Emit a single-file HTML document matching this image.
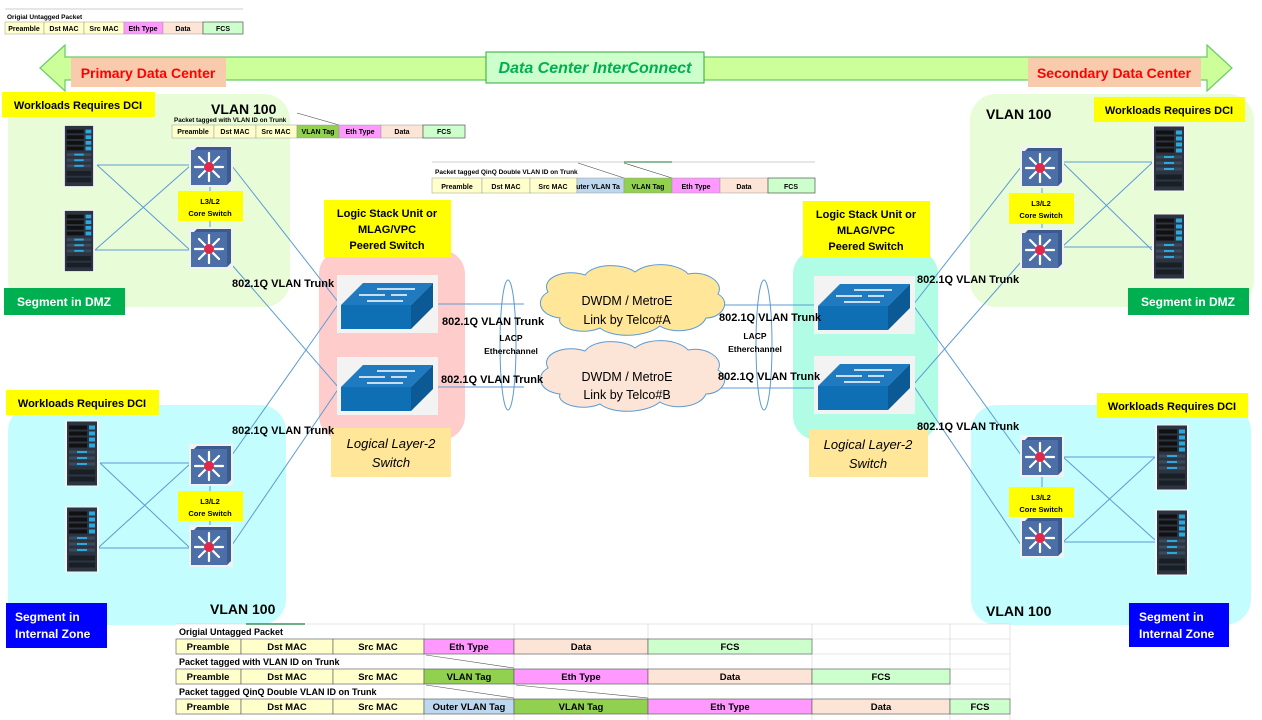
<!DOCTYPE html>
<html><head><meta charset="utf-8"><style>
html,body{margin:0;padding:0;background:#fff;}
svg{display:block;font-family:"Liberation Sans",sans-serif;}
.t{font-weight:bold;font-size:7px;text-anchor:middle;}
.b{font-weight:bold;font-size:9.5px;text-anchor:middle;}
.h{font-weight:bold;font-size:9px;}
.ln{stroke:#5b9bd5;stroke-width:1;fill:none;}
.lbl{font-weight:bold;font-size:11px;}
</style></head><body>
<svg width="1262" height="720" viewBox="0 0 1262 720" xmlns="http://www.w3.org/2000/svg">
<defs>
<symbol id="srv" viewBox="0 0 34 66">
<rect x="0" y="0" width="34" height="66" fill="#f4f4f4"/>
<rect x="2" y="1" width="30" height="64" fill="#2b3440"/>
<rect x="4" y="5" width="18" height="4" fill="#111"/><rect x="24" y="5" width="6" height="4" fill="#2aa8e0"/>
<rect x="4" y="11" width="18" height="4" fill="#111"/><rect x="24" y="11" width="6" height="4" fill="#2aa8e0"/>
<rect x="4" y="17" width="18" height="4" fill="#111"/><rect x="24" y="17" width="6" height="4" fill="#2aa8e0"/>
<rect x="4" y="23" width="18" height="4" fill="#111"/><rect x="24" y="23" width="6" height="4" fill="#2aa8e0"/>
<rect x="4" y="30" width="26" height="3" fill="#3a4a5a"/><rect x="12" y="30.5" width="10" height="2" fill="#2aa8e0"/>
<rect x="4" y="36" width="26" height="3" fill="#3a4a5a"/><rect x="12" y="36.5" width="10" height="2" fill="#2aa8e0"/>
<rect x="4" y="42" width="26" height="3" fill="#3a4a5a"/><rect x="12" y="42.5" width="10" height="2" fill="#2aa8e0"/>
<rect x="4" y="49" width="26" height="5" fill="#1a1f26"/><rect x="4" y="56" width="26" height="5" fill="#1a1f26"/>
</symbol>
<symbol id="core" viewBox="0 0 44 42">
<rect x="0" y="0" width="44" height="42" fill="#f2f2f2"/>
<polygon points="4,6 8,2 42,2 42,36 38,40 4,40" fill="#3b5a8e"/>
<rect x="2" y="5" width="36" height="35" fill="#4d6fa8"/>
<g stroke="#fff" stroke-width="2.2" stroke-linecap="round">
<line x1="20" y1="22" x2="20" y2="8"/><line x1="20" y1="22" x2="20" y2="36"/>
<line x1="20" y1="22" x2="6" y2="22"/><line x1="20" y1="22" x2="34" y2="22"/>
<line x1="20" y1="22" x2="10" y2="12"/><line x1="20" y1="22" x2="30" y2="32"/>
<line x1="20" y1="22" x2="30" y2="12"/><line x1="20" y1="22" x2="10" y2="32"/>
</g>
<circle cx="20" cy="22" r="5" fill="#e0284a"/>
</symbol>
<symbol id="sw" viewBox="0 0 101 58">
<rect x="0" y="0" width="101" height="58" fill="#f3f3f3"/>
<polygon points="4,30 26,8 96,8 74,30" fill="#1f7ac0"/>
<polygon points="4,30 74,30 74,54 4,54" fill="#0f6fb5"/>
<polygon points="74,30 96,8 96,32 74,54" fill="#0b5a95"/>
<g stroke="#fff" stroke-width="1.5">
<line x1="40" y1="14" x2="78" y2="14"/><line x1="22" y1="20" x2="48" y2="20"/><line x1="30" y1="26" x2="66" y2="26"/>
<line x1="54" y1="20" x2="70" y2="20"/>
</g>
</symbol>
</defs>

<!-- top-left table -->
<g>
<line x1="5" y1="9" x2="243" y2="9" stroke="#ccc"/>
<text x="7" y="19" style="font-weight:bold;font-size:6.5px">Origial Untagged Packet</text>
<rect x="5" y="22" width="39" height="12" fill="#ffffcc" stroke="#999" stroke-width=".5"/>
<rect x="44" y="22" width="40" height="12" fill="#ffffcc" stroke="#999" stroke-width=".5"/>
<rect x="84" y="22" width="40" height="12" fill="#ffffcc" stroke="#999" stroke-width=".5"/>
<rect x="124" y="22" width="39" height="12" fill="#ff99ff" stroke="#999" stroke-width=".5"/>
<rect x="163" y="22" width="40" height="12" fill="#fce4d6" stroke="#999" stroke-width=".5"/>
<rect x="203" y="22" width="40" height="12" fill="#ccffcc" stroke="#555" stroke-width=".7"/>
<text class="t" x="24" y="31">Preamble</text><text class="t" x="64" y="31">Dst MAC</text><text class="t" x="104" y="31">Src MAC</text><text class="t" x="143" y="31">Eth Type</text><text class="t" x="183" y="31">Data</text><text class="t" x="223" y="31">FCS</text>
</g>

<!-- DCI arrow -->
<polygon points="40,68 65,45 65,57 1207,57 1207,45 1232,68 1207,91 1207,80 65,80 65,91" fill="#ccff99" stroke="#66cc66" stroke-width="1.2"/>
<rect x="71" y="58" width="155" height="29" fill="#f8cbad"/>
<text x="148" y="78" style="fill:#ff0000;font-weight:bold;font-size:14px;text-anchor:middle">Primary Data Center</text>
<rect x="486" y="52" width="218" height="31" fill="#ccffcc" stroke="#33aa33"/>
<text x="595" y="73" style="fill:#00b050;font-weight:bold;font-style:italic;font-size:16px;text-anchor:middle">Data Center InterConnect</text>
<rect x="1028" y="58" width="173" height="29" fill="#f8cbad"/>
<text x="1114" y="78" style="fill:#ff0000;font-weight:bold;font-size:14px;text-anchor:middle">Secondary Data Center</text>

<!-- regions -->
<rect x="8" y="94" width="282" height="213" rx="26" fill="#e8fcd8"/>
<rect x="8" y="405" width="278" height="220" rx="26" fill="#c4fdfd"/>
<rect x="970" y="94" width="284" height="213" rx="26" fill="#e8fcd8"/>
<rect x="971" y="405" width="280" height="220" rx="26" fill="#c4fdfd"/>
<rect x="319" y="250" width="146" height="190" rx="24" fill="#ffcccc"/>
<rect x="793" y="250" width="145" height="190" rx="24" fill="#b0fce4"/>

<!-- connector lines left -->
<g class="ln">
<line x1="97" y1="165" x2="190" y2="165"/><line x1="97" y1="165" x2="190" y2="250"/>
<line x1="95" y1="250" x2="190" y2="166"/><line x1="95" y1="250" x2="190" y2="250"/>
<line x1="210" y1="186" x2="210" y2="228"/>
<line x1="232" y1="166" x2="339" y2="303"/><line x1="232" y1="265" x2="339" y2="388"/>
<line x1="232" y1="455" x2="339" y2="303"/><line x1="232" y1="545" x2="339" y2="388"/>
<line x1="100" y1="463" x2="190" y2="463"/><line x1="100" y1="463" x2="190" y2="548"/>
<line x1="98" y1="548" x2="190" y2="464"/><line x1="98" y1="548" x2="190" y2="548"/>
<line x1="210" y1="486" x2="210" y2="526"/>
<!-- middle -->
<line x1="418" y1="304" x2="524" y2="304"/><line x1="660" y1="305" x2="868" y2="305"/>
<line x1="418" y1="387" x2="524" y2="387"/><line x1="660" y1="388" x2="868" y2="388"/>
<!-- right -->
<line x1="913" y1="305" x2="1021" y2="167"/><line x1="913" y1="305" x2="1021" y2="455"/>
<line x1="913" y1="385" x2="1021" y2="262"/><line x1="913" y1="385" x2="1021" y2="545"/>
<line x1="1062" y1="162" x2="1152" y2="162"/><line x1="1062" y1="162" x2="1152" y2="250"/>
<line x1="1062" y1="247" x2="1153" y2="162"/><line x1="1062" y1="247" x2="1152" y2="247"/>
<line x1="1042" y1="187" x2="1042" y2="228"/>
<line x1="1063" y1="457" x2="1155" y2="457"/><line x1="1063" y1="457" x2="1155" y2="540"/>
<line x1="1063" y1="542" x2="1155" y2="457"/><line x1="1063" y1="542" x2="1155" y2="542"/>
<line x1="1042" y1="477" x2="1042" y2="516"/>
<ellipse cx="508" cy="345" rx="8" ry="65"/><ellipse cx="764" cy="345" rx="8" ry="65"/>
</g>

<!-- servers -->
<use href="#srv" x="63" y="123" width="32" height="66"/>
<use href="#srv" x="63" y="208" width="32" height="66"/>
<use href="#srv" x="65" y="420" width="34" height="67"/>
<use href="#srv" x="65" y="506" width="34" height="67"/>
<use href="#srv" x="1152" y="125" width="34" height="67"/>
<use href="#srv" x="1152" y="213" width="34" height="67"/>
<use href="#srv" x="1155" y="424" width="34" height="67"/>
<use href="#srv" x="1155" y="509" width="34" height="67"/>
<!-- core switches -->
<use href="#core" x="189" y="145" width="44" height="42"/>
<use href="#core" x="189" y="227" width="44" height="42"/>
<use href="#core" x="189" y="444" width="44" height="42"/>
<use href="#core" x="189" y="525" width="44" height="42"/>
<use href="#core" x="1020" y="146" width="44" height="42"/>
<use href="#core" x="1020" y="228" width="44" height="42"/>
<use href="#core" x="1020" y="435" width="44" height="42"/>
<use href="#core" x="1020" y="516" width="44" height="42"/>
<!-- stack switches -->
<use href="#sw" x="337" y="275" width="101" height="58"/>
<use href="#sw" x="337" y="357" width="101" height="58"/>
<use href="#sw" x="814" y="276" width="101" height="58"/>
<use href="#sw" x="814" y="356" width="101" height="58"/>

<!-- yellow labels -->
<g>
<rect x="2" y="92" width="153" height="25" fill="#ffff00"/><text x="78" y="109" class="lbl" style="text-anchor:middle">Workloads Requires DCI</text>
<rect x="6" y="390" width="153" height="25" fill="#ffff00"/><text x="82" y="407" class="lbl" style="text-anchor:middle">Workloads Requires DCI</text>
<rect x="1094" y="97" width="151" height="25" fill="#ffff00"/><text x="1169" y="114" class="lbl" style="text-anchor:middle">Workloads Requires DCI</text>
<rect x="1097" y="393" width="151" height="25" fill="#ffff00"/><text x="1172" y="410" class="lbl" style="text-anchor:middle">Workloads Requires DCI</text>
<rect x="178" y="191" width="65" height="30" fill="#ffff00"/><text x="210" y="204" style="font-weight:bold;font-size:7.5px;text-anchor:middle">L3/L2</text><text x="210" y="216" style="font-weight:bold;font-size:7.5px;text-anchor:middle">Core Switch</text>
<rect x="178" y="491" width="65" height="30" fill="#ffff00"/><text x="210" y="504" style="font-weight:bold;font-size:7.5px;text-anchor:middle">L3/L2</text><text x="210" y="516" style="font-weight:bold;font-size:7.5px;text-anchor:middle">Core Switch</text>
<rect x="1009" y="193" width="65" height="31" fill="#ffff00"/><text x="1041" y="206" style="font-weight:bold;font-size:7.5px;text-anchor:middle">L3/L2</text><text x="1041" y="218" style="font-weight:bold;font-size:7.5px;text-anchor:middle">Core Switch</text>
<rect x="1009" y="487" width="65" height="30" fill="#ffff00"/><text x="1041" y="500" style="font-weight:bold;font-size:7.5px;text-anchor:middle">L3/L2</text><text x="1041" y="512" style="font-weight:bold;font-size:7.5px;text-anchor:middle">Core Switch</text>
<rect x="324" y="200" width="127" height="57" fill="#ffff00"/>
<text x="387" y="217" class="lbl" style="text-anchor:middle">Logic Stack Unit or</text><text x="387" y="233" class="lbl" style="text-anchor:middle">MLAG/VPC</text><text x="387" y="249" class="lbl" style="text-anchor:middle">Peered Switch</text>
<rect x="803" y="201" width="127" height="57" fill="#ffff00"/>
<text x="866" y="218" class="lbl" style="text-anchor:middle">Logic Stack Unit or</text><text x="866" y="234" class="lbl" style="text-anchor:middle">MLAG/VPC</text><text x="866" y="250" class="lbl" style="text-anchor:middle">Peered Switch</text>
<rect x="331" y="428" width="120" height="49" fill="#ffe699"/>
<text x="391" y="448" style="font-style:italic;font-size:13px;text-anchor:middle">Logical Layer-2</text><text x="391" y="467" style="font-style:italic;font-size:13px;text-anchor:middle">Switch</text>
<rect x="809" y="429" width="119" height="48" fill="#ffe699"/>
<text x="868" y="449" style="font-style:italic;font-size:13px;text-anchor:middle">Logical Layer-2</text><text x="868" y="468" style="font-style:italic;font-size:13px;text-anchor:middle">Switch</text>
</g>

<!-- segment boxes -->
<rect x="4" y="288" width="121" height="27" fill="#00b050"/><text x="64" y="306" style="fill:#fff;font-weight:bold;font-size:12px;text-anchor:middle">Segment in DMZ</text>
<rect x="1128" y="288" width="121" height="27" fill="#00b050"/><text x="1188" y="306" style="fill:#fff;font-weight:bold;font-size:12px;text-anchor:middle">Segment in DMZ</text>
<rect x="6" y="603" width="101" height="45" fill="#0000ff"/><text x="15" y="621" style="fill:#fff;font-weight:bold;font-size:12px">Segment in</text><text x="15" y="638" style="fill:#fff;font-weight:bold;font-size:12px">Internal Zone</text>
<rect x="1129" y="603" width="100" height="44" fill="#0000ff"/><text x="1139" y="621" style="fill:#fff;font-weight:bold;font-size:12px">Segment in</text><text x="1139" y="638" style="fill:#fff;font-weight:bold;font-size:12px">Internal Zone</text>

<!-- VLAN 100 -->
<text x="211" y="114" style="font-weight:bold;font-size:14px">VLAN 100</text>
<text x="210" y="614" style="font-weight:bold;font-size:14px">VLAN 100</text>
<text x="986" y="119" style="font-weight:bold;font-size:14px">VLAN 100</text>
<text x="986" y="616" style="font-weight:bold;font-size:14px">VLAN 100</text>

<!-- table VLAN tag -->
<g>
<text x="174" y="122" style="font-weight:bold;font-size:6.3px">Packet tagged with VLAN ID on Trunk</text>
<line x1="297" y1="113" x2="339" y2="125" stroke="#444" stroke-width=".6"/>
<rect x="172" y="125" width="42" height="13" fill="#ffffcc" stroke="#999" stroke-width=".5"/>
<rect x="214" y="125" width="42" height="13" fill="#ffffcc" stroke="#999" stroke-width=".5"/>
<rect x="256" y="125" width="41" height="13" fill="#ffffcc" stroke="#999" stroke-width=".5"/>
<rect x="297" y="125" width="42" height="13" fill="#92d050" stroke="#999" stroke-width=".5"/>
<rect x="339" y="125" width="42" height="13" fill="#ff99ff" stroke="#999" stroke-width=".5"/>
<rect x="381" y="125" width="42" height="13" fill="#fce4d6" stroke="#999" stroke-width=".5"/>
<rect x="423" y="125" width="42" height="13" fill="#ccffcc" stroke="#555" stroke-width=".7"/>
<text class="t" x="193" y="134">Preamble</text><text class="t" x="235" y="134">Dst MAC</text><text class="t" x="276" y="134">Src MAC</text><text class="t" x="318" y="134">VLAN Tag</text><text class="t" x="360" y="134">Eth Type</text><text class="t" x="402" y="134">Data</text><text class="t" x="444" y="134">FCS</text>
</g>

<!-- table QinQ middle -->
<g>
<line x1="432" y1="162" x2="815" y2="162" stroke="#ccc"/>
<text x="435" y="174" style="font-weight:bold;font-size:6.5px">Packet tagged QinQ Double VLAN ID on Trunk</text>
<line x1="578" y1="163" x2="624" y2="178" stroke="#444" stroke-width=".6"/>
<line x1="624" y1="163" x2="672" y2="178" stroke="#444" stroke-width=".6"/>
<line x1="624" y1="162" x2="672" y2="162" stroke="#1a7a3a" stroke-width="1"/>
<rect x="432" y="178" width="50" height="15" fill="#ffffcc" stroke="#999" stroke-width=".5"/>
<rect x="482" y="178" width="48" height="15" fill="#ffffcc" stroke="#999" stroke-width=".5"/>
<rect x="530" y="178" width="47" height="15" fill="#ffffcc" stroke="#999" stroke-width=".5"/>
<rect x="577" y="178" width="47" height="15" fill="#bdd7ee" stroke="#999" stroke-width=".5"/>
<rect x="624" y="178" width="48" height="15" fill="#92d050" stroke="#999" stroke-width=".5"/>
<rect x="672" y="178" width="48" height="15" fill="#ff99ff" stroke="#999" stroke-width=".5"/>
<rect x="720" y="178" width="48" height="15" fill="#fce4d6" stroke="#999" stroke-width=".5"/>
<rect x="768" y="178" width="47" height="15" fill="#ccffcc" stroke="#555" stroke-width=".7"/>
<text class="t" x="457" y="189">Preamble</text><text class="t" x="506" y="189">Dst MAC</text><text class="t" x="553" y="189">Src MAC</text><text class="t" x="598" y="189">uter VLAN Ta</text><text class="t" x="648" y="189">VLAN Tag</text><text class="t" x="696" y="189">Eth Type</text><text class="t" x="744" y="189">Data</text><text class="t" x="791" y="189">FCS</text>
</g>

<!-- clouds -->
<g stroke="#5b9bd5" stroke-width="1">
<path d="M548,292 C540,278 565,268 585,275 C595,262 625,264 635,272 C650,260 680,264 688,274 C705,270 725,282 718,294 C732,302 722,318 706,318 C700,332 672,334 660,326 C645,338 612,338 600,328 C582,336 556,328 560,318 C540,316 534,300 548,292 Z" fill="#ffe699"/>
<path d="M548,368 C540,354 565,344 585,351 C595,338 625,340 635,348 C650,336 680,340 688,350 C705,346 725,358 718,370 C732,378 722,394 706,394 C700,408 672,410 660,402 C645,414 612,414 600,404 C582,412 556,404 560,394 C540,392 534,376 548,368 Z" fill="#fce4d6"/>
</g>
<text x="627" y="305" style="font-size:12.5px;text-anchor:middle">DWDM / MetroE</text>
<text x="627" y="324" style="font-size:12.5px;text-anchor:middle">Link by Telco#A</text>
<text x="627" y="381" style="font-size:12.5px;text-anchor:middle">DWDM / MetroE</text>
<text x="627" y="399" style="font-size:12.5px;text-anchor:middle">Link by Telco#B</text>

<!-- trunk labels -->
<g class="lbl">
<text x="232" y="287">802.1Q VLAN Trunk</text>
<text x="232" y="434">802.1Q VLAN Trunk</text>
<text x="442" y="325">802.1Q VLAN Trunk</text>
<text x="441" y="383">802.1Q VLAN Trunk</text>
<text x="719" y="321">802.1Q VLAN Trunk</text>
<text x="718" y="380">802.1Q VLAN Trunk</text>
<text x="917" y="283">802.1Q VLAN Trunk</text>
<text x="917" y="430">802.1Q VLAN Trunk</text>
</g>
<text x="511" y="341" style="font-weight:bold;font-size:8.5px;text-anchor:middle">LACP</text>
<text x="511" y="354" style="font-weight:bold;font-size:8.5px;text-anchor:middle">Etherchannel</text>
<text x="755" y="339" style="font-weight:bold;font-size:8.5px;text-anchor:middle">LACP</text>
<text x="755" y="352" style="font-weight:bold;font-size:8.5px;text-anchor:middle">Etherchannel</text>

<!-- bottom table -->
<g>
<rect x="176" y="624" width="834" height="91" fill="#fff"/>
<g stroke="#d0d0d0" stroke-width=".6">
<line x1="176" y1="624" x2="1010" y2="624"/><line x1="176" y1="639" x2="1010" y2="639"/><line x1="176" y1="654" x2="1010" y2="654"/><line x1="176" y1="669" x2="1010" y2="669"/><line x1="176" y1="684" x2="1010" y2="684"/><line x1="176" y1="699" x2="1010" y2="699"/><line x1="176" y1="714" x2="1010" y2="714"/>
<line x1="424" y1="624" x2="424" y2="720"/><line x1="514" y1="624" x2="514" y2="720"/><line x1="648" y1="624" x2="648" y2="720"/><line x1="812" y1="624" x2="812" y2="720"/><line x1="950" y1="624" x2="950" y2="720"/><line x1="1010" y1="624" x2="1010" y2="720"/>
</g>
<line x1="246" y1="624" x2="305" y2="624" stroke="#1a7a3a" stroke-width="1.2"/>
<text class="h" x="179" y="635">Origial Untagged Packet</text>
<g stroke="#555" stroke-width=".6">
<rect x="176" y="639" width="65" height="15" fill="#ffffcc"/><rect x="241" y="639" width="92" height="15" fill="#ffffcc"/><rect x="333" y="639" width="91" height="15" fill="#ffffcc"/><rect x="424" y="639" width="90" height="15" fill="#ff99ff"/><rect x="514" y="639" width="134" height="15" fill="#fce4d6"/><rect x="648" y="639" width="164" height="15" fill="#ccffcc"/>
<rect x="176" y="669" width="65" height="15" fill="#ffffcc"/><rect x="241" y="669" width="92" height="15" fill="#ffffcc"/><rect x="333" y="669" width="91" height="15" fill="#ffffcc"/><rect x="424" y="669" width="90" height="15" fill="#92d050"/><rect x="514" y="669" width="134" height="15" fill="#ff99ff"/><rect x="648" y="669" width="164" height="15" fill="#fce4d6"/><rect x="812" y="669" width="138" height="15" fill="#ccffcc"/>
<rect x="176" y="699" width="65" height="15" fill="#ffffcc"/><rect x="241" y="699" width="92" height="15" fill="#ffffcc"/><rect x="333" y="699" width="91" height="15" fill="#ffffcc"/><rect x="424" y="699" width="90" height="15" fill="#bdd7ee"/><rect x="514" y="699" width="134" height="15" fill="#92d050"/><rect x="648" y="699" width="164" height="15" fill="#ff99ff"/><rect x="812" y="699" width="138" height="15" fill="#fce4d6"/><rect x="950" y="699" width="60" height="15" fill="#ccffcc"/>
<line x1="426" y1="655" x2="514" y2="668"/><line x1="426" y1="685" x2="514" y2="698"/><line x1="516" y1="685" x2="648" y2="698"/>
</g>
<text class="b" x="208" y="650">Preamble</text><text class="b" x="287" y="650">Dst MAC</text><text class="b" x="378" y="650">Src MAC</text><text class="b" x="469" y="650">Eth Type</text><text class="b" x="581" y="650">Data</text><text class="b" x="730" y="650">FCS</text>
<text class="h" x="179" y="665">Packet tagged with VLAN ID on Trunk</text>
<text class="b" x="208" y="680">Preamble</text><text class="b" x="287" y="680">Dst MAC</text><text class="b" x="378" y="680">Src MAC</text><text class="b" x="469" y="680">VLAN Tag</text><text class="b" x="581" y="680">Eth Type</text><text class="b" x="730" y="680">Data</text><text class="b" x="881" y="680">FCS</text>
<text class="h" x="179" y="695">Packet tagged QinQ Double VLAN ID on Trunk</text>
<text class="b" x="208" y="710">Preamble</text><text class="b" x="287" y="710">Dst MAC</text><text class="b" x="378" y="710">Src MAC</text><text class="b" x="469" y="710">Outer VLAN Tag</text><text class="b" x="581" y="710">VLAN Tag</text><text class="b" x="730" y="710">Eth Type</text><text class="b" x="881" y="710">Data</text><text class="b" x="980" y="710">FCS</text>
</g>
</svg>
</body></html>
